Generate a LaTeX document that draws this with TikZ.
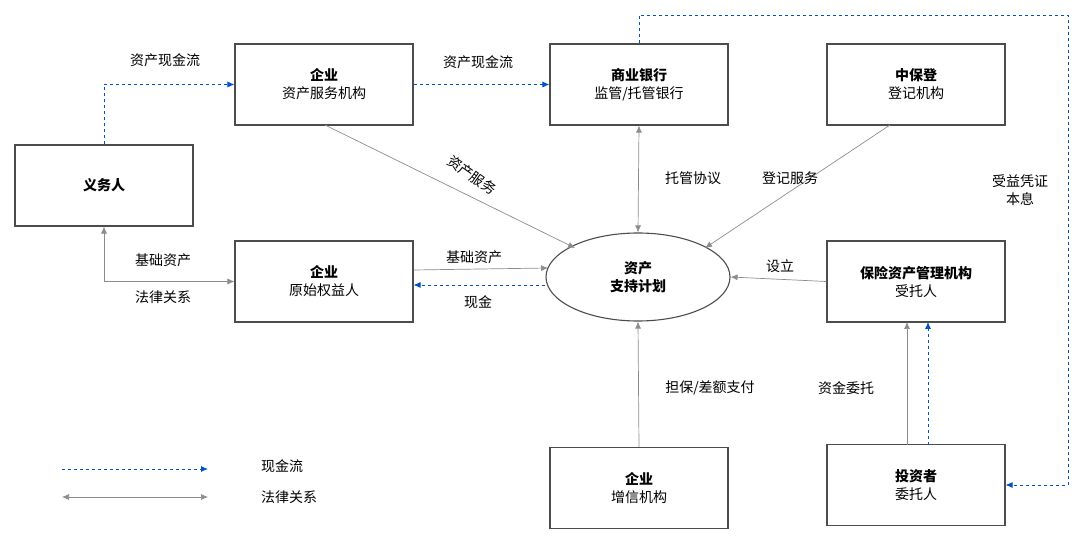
\documentclass[tikz,border=0pt]{standalone}
\usepackage{fontspec}
\setmainfont{Noto Sans CJK SC}
\usetikzlibrary{shapes.geometric,arrows.meta}
\begin{document}
\begin{tikzpicture}[x=1pt,y=-1pt,font=\fontsize{14}{18}\selectfont]
\tikzset{box/.style={draw=black!70,line width=1.1pt,minimum width=178pt,minimum height=81pt,align=center,inner sep=0pt},
law/.style={draw=black!45,line width=0.7pt,-{Latex[length=7pt,width=6pt]}},
cash/.style={draw=blue!60!cyan!80!black,line width=0.8pt,dashed,-{Latex[length=7pt,width=6pt]}},
lab/.style={inner sep=1pt}}
\useasboundingbox (0,0) rectangle (1080,545);
\node[box] (obl) at (104,185.5) {\textbf{义务人}};
\node[box] (svc) at (324,84.5) {\textbf{企业}\\资产服务机构};
\node[box] (bank) at (639,84.5) {\textbf{商业银行}\\监管/托管银行};
\node[box] (reg) at (916,84.5) {\textbf{中保登}\\登记机构};
\node[box] (orig) at (324,281.5) {\textbf{企业}\\原始权益人};
\node[box] (mgr) at (916,281.5) {\textbf{保险资产管理机构}\\受托人};
\node[box] (cred) at (639,488) {\textbf{企业}\\增信机构};
\node[box] (inv) at (916,485) {\textbf{投资者}\\委托人};
\node[ellipse,draw=black!70,line width=1.1pt,minimum width=184pt,minimum height=88pt,align=center] (plan) at (638,277) {\textbf{资产}\\\textbf{支持计划}};
% cash flows
\draw[cash] (obl.north) |- (svc.west);
\node[lab] at (165,60) {资产现金流};
\draw[cash] (svc.east) -- (bank.west);
\node[lab] at (478,62) {资产现金流};
\draw[cash] (bank.north) |- (1068,15) |- (inv.east);
\node[lab,align=center] at (1020,190) {受益凭证\\本息};
\draw[cash] (plan.west |- 0,285) -- (orig.east |- 0,285);
\node[lab] at (478,302) {现金};
\draw[cash] (928,445) -- (928,322);
% legal relations
\draw[law,{Latex[length=7pt,width=6pt]}-{Latex[length=7pt,width=6pt]}] (bank.south) -- (plan.north);
\node[lab] at (693,178) {托管协议};
\draw[law] (325,125) -- (575,248);
\node[lab,rotate=-35] at (472,175) {资产服务};
\draw[law] (890,125) -- (705,248);
\node[lab] at (790,178) {登记服务};
\draw[law,{Latex[length=7pt,width=6pt]}-{Latex[length=7pt,width=6pt]}] (obl.south) |- (orig.west);
\node[lab] at (163,260) {基础资产};
\node[lab] at (163,297) {法律关系};
\draw[law] (orig.east |- 0,270) -- (548,268);
\node[lab] at (474,257) {基础资产};
\draw[law] (mgr.west) -- (plan.east);
\node[lab] at (780,266) {设立};
\draw[law] (cred.north) -- (plan.south);
\node[lab] at (710,388) {担保/差额支付};
\draw[law] (907,445) -- (907,322);
\node[lab] at (846,388) {资金委托};
% legend
\coordinate (c1) at (62,469); \coordinate (c2) at (208,469);
\coordinate (l1) at (62,497); \coordinate (l2) at (208,497);
\draw[cash] (c1) -- (c2);
\node[lab] at (282,466) {现金流};
\draw[law,{Latex[length=7pt,width=6pt]}-{Latex[length=7pt,width=6pt]}] (l1) -- (l2);
\node[lab] at (289,497) {法律关系};
\end{tikzpicture}
\end{document}
